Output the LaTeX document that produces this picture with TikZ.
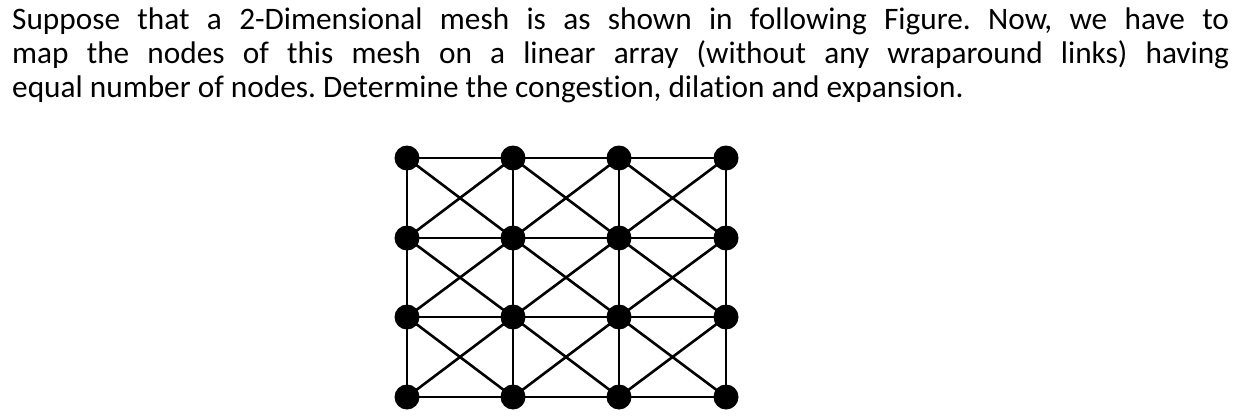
\documentclass[tikz,border=0pt]{standalone}
\usepackage{fontspec}
\setmainfont[Ligatures={NoCommon}]{Carlito}
\frenchspacing
\begin{document}
\begin{tikzpicture}[x=1pt,y=-1pt,
  dot/.style={circle,fill=black,inner sep=0pt,minimum size=25pt},
  link/.style={line width=2.6pt,black},
  txt/.style={anchor=base west,inner sep=0pt,font=\fontsize{31.3}{34}\selectfont}]
\useasboundingbox (0,0) rectangle (1248,420);
\node[txt] (l1) at (12,30) {\makebox[1217pt][s]{Suppose that a 2-Dimensional mesh is as shown in following Figure. Now, we have to}};
\node[txt] (l2) at (12,64) {\makebox[1217pt][s]{map the nodes of this mesh on a linear array (without any wraparound links) having}};
\node[txt] (l3) at (12,98) {equal number of nodes. Determine the congestion, dilation and expansion.};
\foreach \i/\x in {1/407,2/513,3/619,4/726}{
  \foreach \j/\y in {1/158,2/238,3/317,4/397}{
    \coordinate (c\i\j) at (\x,\y);
  }
}
% links
\foreach \i in {1,...,4}{
  \foreach \j [evaluate=\j as \k using int(\j+1)] in {1,2,3}{
    \draw[link] (c\i\j) -- (c\i\k);
    \draw[link] (c\j\i) -- (c\k\i);
  }
}
\foreach \i [evaluate=\i as \ii using int(\i+1)] in {1,2,3}{
  \foreach \j [evaluate=\j as \jj using int(\j+1)] in {1,2,3}{
    \draw[link] (c\i\j) -- (c\ii\jj);
    \draw[link] (c\ii\j) -- (c\i\jj);
  }
}
\foreach \i in {1,...,4}{
  \foreach \j in {1,...,4}{
    \node[dot] (n\i\j) at (c\i\j) {};
  }
}
\end{tikzpicture}
\end{document}
